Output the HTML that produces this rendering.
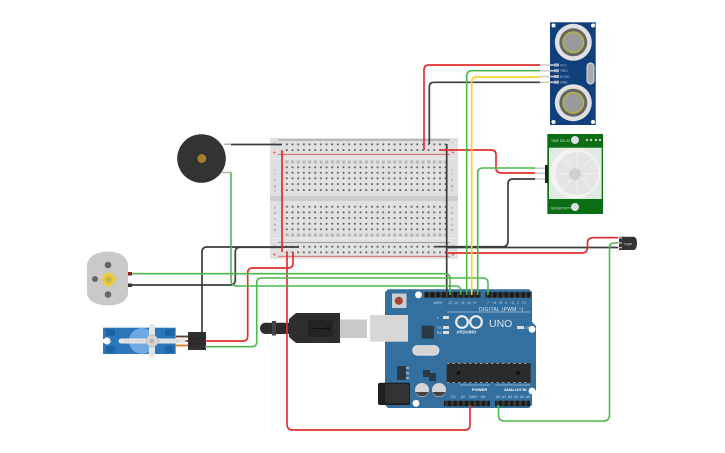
<!DOCTYPE html>
<html><head><meta charset="utf-8"><style>html,body{margin:0;padding:0;background:#fff}svg{display:block}text{font-family:"Liberation Sans",sans-serif}</style></head><body>
<svg width="725" height="453" viewBox="0 0 725 453" xmlns="http://www.w3.org/2000/svg">
<defs>
<pattern id="h" patternUnits="userSpaceOnUse" x="284" y="0" width="5.67" height="453"><rect x="2" y="0" width="1.700" height="453" fill="#555"/></pattern>
<pattern id="n" patternUnits="userSpaceOnUse" x="284" y="0" width="5.67" height="453"><rect x="1.5" y="0" width="3" height="453" fill="#b5b5b5"/></pattern>
<pattern id="p" patternUnits="userSpaceOnUse" x="424" y="0" width="5.67" height="453"><rect width="5.67" height="453" fill="#3a3a3a"/><rect x="1.2" y="0" width="3.2" height="453" fill="#1b1b1b"/></pattern>
</defs>

<!-- breadboard -->
<rect x="270" y="138" width="188" height="121" fill="#e0e0e0"/>
<rect x="270" y="196" width="188" height="5" fill="#cdcdcd"/>
<rect x="270" y="158" width="188" height="1" fill="#ececec"/>
<rect x="270" y="238" width="188" height="1" fill="#ececec"/>
<path d="M278 140H450M278 242.700H450" stroke="#777" stroke-width=".7" fill="none"/>
<path d="M278 154.300H450M278 256.300H450" stroke="#d9534f" stroke-width=".8" fill="none"/>
<g fill="url(#h)">
<rect x="284" y="143.500" width="166" height="1.700"/><rect x="284" y="149.200" width="166" height="1.700"/>
<rect x="284" y="166.500" width="166" height="1.700"/><rect x="284" y="171.900" width="166" height="1.700"/><rect x="284" y="177.500" width="166" height="1.700"/><rect x="284" y="183.200" width="166" height="1.700"/><rect x="284" y="189.200" width="166" height="1.700"/>
<rect x="284" y="205.900" width="166" height="1.700"/><rect x="284" y="211.500" width="166" height="1.700"/><rect x="284" y="217.200" width="166" height="1.700"/><rect x="284" y="222.900" width="166" height="1.700"/><rect x="284" y="228.500" width="166" height="1.700"/>
<rect x="284" y="245.900" width="166" height="1.700"/><rect x="284" y="251.500" width="166" height="1.700"/>
</g>
<rect x="284" y="160.500" width="166" height="3" fill="url(#n)"/>
<rect x="284" y="233.500" width="166" height="3" fill="url(#n)"/>
<g font-size="4" fill="#888" text-anchor="middle">
<text x="275" y="170">j</text><text x="275" y="175">i</text><text x="275" y="181">h</text><text x="275" y="187">g</text><text x="275" y="192">f</text>
<text x="452" y="170">j</text><text x="452" y="175">i</text><text x="452" y="181">h</text><text x="452" y="187">g</text><text x="452" y="192">f</text>
<text x="275" y="209">e</text><text x="275" y="214">d</text><text x="275" y="220">c</text><text x="275" y="226">b</text><text x="275" y="231">a</text>
<text x="452" y="209">e</text><text x="452" y="214">d</text><text x="452" y="220">c</text><text x="452" y="226">b</text><text x="452" y="231">a</text>
</g>
<g font-size="6" fill="#d33" text-anchor="middle"><text x="274.500" y="154.500">+</text><text x="453" y="154.500">+</text><text x="274.500" y="256.500">+</text><text x="453" y="256.500">+</text></g>
<g font-size="5" fill="#555" text-anchor="middle"><text x="274.500" y="144">-</text><text x="453" y="144">-</text><text x="274.500" y="247">-</text><text x="453" y="247">-</text></g>

<!-- buzzer -->
<circle cx="201.500" cy="158.500" r="24.300" fill="#333"/>
<circle cx="201.800" cy="158.500" r="4.500" fill="#a67f2e"/>
<path d="M224 144.300H231M222 172.500H231" stroke="#b5b5b5" stroke-width="1.500" fill="none"/>

<!-- motor -->
<path d="M98 253Q108 250 118 253Q126 256 128 264V294Q126 302 118 304Q108 307 98 304Q89 302 87 294V264Q89 256 98 253Z" fill="#c9c9c9"/>
<circle cx="108" cy="265" r="3.300" fill="#666"/><circle cx="95" cy="279" r="3" fill="#666"/><circle cx="108" cy="294.500" r="3.300" fill="#666"/>
<circle cx="108.500" cy="279.500" r="6" fill="#eecb2c"/>
<path d="M108.500 271.500V287.500M100.500 279.500H116.500M103 274L114 285M114 274L103 285" stroke="#eecb2c" stroke-width="1.800"/>
<circle cx="108.500" cy="279.500" r="3.300" fill="#c6b24e"/>
<rect x="128" y="272" width="4" height="3.500" fill="#8a1f1f"/><rect x="128" y="283.500" width="4" height="3.500" fill="#333"/>

<!-- servo -->
<rect x="103" y="327.700" width="72.700" height="26.300" fill="#2c77bb"/>
<circle cx="107" cy="341" r="3.600" fill="#fff"/>
<rect x="103" y="339" width="4" height="4" fill="#fff"/>
<rect x="106" y="329" width="9" height="7" fill="#1f63a2"/><rect x="106" y="346" width="9" height="7" fill="#1f63a2"/><rect x="165" y="329" width="9" height="7" fill="#1f63a2"/><rect x="165" y="346" width="9" height="7" fill="#1f63a2"/>
<circle cx="142" cy="341" r="13" fill="#6fa9e3"/>
<path d="M176 336.500H188" stroke="#5a3a2a" stroke-width="1.800"/><path d="M178 341H188" stroke="#a83030" stroke-width="1.800"/><path d="M176 345.500H188" stroke="#d97a28" stroke-width="1.800"/>
<path d="M121 341H183" stroke="#e6e6e6" stroke-width="5" stroke-linecap="round"/>
<path d="M125 341H145M159 341H180" stroke="#8aa0b5" stroke-width="1" stroke-dasharray="1 2.500"/>
<path d="M152 327V354" stroke="#e6e6e6" stroke-width="6" stroke-linecap="round"/>
<circle cx="152" cy="341" r="6" fill="#d5d5d5" stroke="#aaa" stroke-width=".6"/><circle cx="152" cy="341" r="2.500" fill="#b5b5b5"/>
<rect x="188" y="332" width="18" height="18" fill="#2f2f2f"/>
<path d="M188 338H206M188 344H206" stroke="#1c1c1c" stroke-width=".6"/>

<!-- ultrasonic -->
<rect x="550" y="22.300" width="45.700" height="102.700" fill="#103f7c"/>
<g fill="#fff"><circle cx="553.500" cy="25.500" r="2"/><circle cx="593" cy="25.500" r="2"/><circle cx="553.500" cy="122" r="2"/><circle cx="593" cy="122" r="2"/></g>
<g>
<circle cx="573.300" cy="42.300" r="18.500" fill="#e0e0e0"/><circle cx="573.300" cy="42.300" r="14" fill="#666"/><circle cx="573.300" cy="42.300" r="11" fill="#b4b53a"/><circle cx="573.300" cy="42.300" r="9.500" fill="#9a9a9a"/>
<circle cx="573.300" cy="102.700" r="18.500" fill="#e0e0e0"/><circle cx="573.300" cy="102.700" r="14" fill="#666"/><circle cx="573.300" cy="102.700" r="11" fill="#b4b53a"/><circle cx="573.300" cy="102.700" r="9.500" fill="#9a9a9a"/>
</g>
<rect x="587" y="63" width="7" height="21" rx="3.500" fill="#aaa" stroke="#ddd" stroke-width="1"/>
<g fill="#a9b9cc"><rect x="554" y="63.500" width="5" height="3"/><rect x="554" y="69.200" width="5" height="3"/><rect x="554" y="75" width="5" height="3"/><rect x="554" y="80.700" width="5" height="3"/></g>
<g font-size="3.300" fill="#b9c7d8"><text x="560" y="66.500">VCC</text><text x="560" y="72.200">TRIG</text><text x="560" y="78">ECHO</text><text x="560" y="83.700">GND</text></g>
<path d="M540 65H554M540 70.700H554M540 76.500H554M540 82.200H554" stroke="#ccc" stroke-width="1.500"/>

<!-- PIR -->
<rect x="547.300" y="134" width="55.700" height="80" fill="#0c6e14"/>
<rect x="549" y="147.700" width="52.700" height="51.300" fill="#dfecdf"/>
<circle cx="575" cy="173.500" r="25" fill="#f2f2f2"/>
<circle cx="577" cy="173.500" r="21.500" fill="#e4e4e4"/>
<path d="M577 152V195M556 173.500H598M562 158L592 189M592 158L562 189" stroke="#efefef" stroke-width="1"/>
<circle cx="575" cy="174" r="6" fill="#d0d0d0"/>
<circle cx="575" cy="140" r="4" fill="#ddd"/><circle cx="575" cy="207" r="4" fill="#ddd"/>
<g fill="#ccc"><circle cx="587" cy="140" r="1.200"/><circle cx="591" cy="140" r="1.200"/><circle cx="596" cy="140" r="1.200"/><circle cx="600" cy="140" r="1.200"/></g>
<g font-size="3.300" fill="#cfe0cf"><text x="551" y="142">TIME DELAY</text><text x="551" y="209.500">SENSITIVITY</text></g>
<rect x="545" y="165" width="3" height="18" fill="#222"/>
<path d="M535 168.300H545M535 173.300H545M535 179H545" stroke="#c9c9c9" stroke-width="1.500"/>

<!-- temp sensor -->
<path d="M619 236.700H633Q637 236.700 637 243.400Q637 250 633 250H619Z" fill="#333"/>
<path d="M618 238H622M618 243H622M618 247.700H622" stroke="#ccc" stroke-width="1.200"/>
<text x="628" y="245.500" font-size="4" fill="#ddd" text-anchor="middle">TMP</text>

<!-- arduino -->
<path d="M388 289.300H529L532 292V322L536 326V390L532 394V405L529 408H388L385 405V292Z" fill="#336f9f"/>
<rect x="424" y="292" width="56.700" height="5.700" fill="url(#p)"/>
<rect x="485" y="292" width="45.700" height="5.700" fill="url(#p)"/>
<rect x="444" y="400.700" width="46" height="5.500" fill="url(#p)"/>
<rect x="495" y="400.700" width="35" height="5.500" fill="url(#p)"/>
<rect x="392" y="293.500" width="14.500" height="14.500" fill="#c9ced2"/><circle cx="398.800" cy="300.800" r="4" fill="#a8402c"/>
<g fill="#fff"><circle cx="418.500" cy="294.800" r="3.400"/><circle cx="532" cy="329.300" r="3.400"/><circle cx="532" cy="391" r="3.400"/><circle cx="416" cy="403.300" r="3.400"/></g>
<rect x="421.700" y="325.700" width="12.300" height="13" fill="#2a3a46"/>
<rect x="412.700" y="345.700" width="26.300" height="9.500" rx="4.700" fill="#d5d5d5" stroke="#eee" stroke-width=".8"/>
<rect x="446.700" y="363" width="84" height="20" fill="#2b2b2b"/>
<circle cx="458.500" cy="373" r="2" fill="#111"/><circle cx="518" cy="373" r="2" fill="#111"/>
<path d="M447 363.500H530M447 382.500H530" stroke="#999" stroke-width="1" stroke-dasharray="2.500 3"/>
<rect x="423" y="370" width="7" height="7" fill="#2a3a46"/>
<rect x="397" y="366" width="9" height="14" fill="#2a3a46"/><path d="M406 368H409M406 373H409M406 378H409" stroke="#bbb" stroke-width="1.500"/>
<rect x="429" y="373" width="7" height="8" fill="#2a3a46"/>
<rect x="378" y="382.700" width="32" height="22.300" rx="2" fill="#1f1f1f"/><rect x="385" y="384" width="24" height="19" rx="2" fill="#333"/>
<circle cx="422" cy="390" r="7" fill="#d5d5d5"/><path d="M415.500 392A7 7 0 0 0 428.500 392Z" fill="#444"/>
<circle cx="439" cy="390" r="7" fill="#d5d5d5"/><path d="M432.500 392A7 7 0 0 0 445.500 392Z" fill="#444"/>
<g fill="#ddd"><rect x="443" y="316" width="6" height="3"/><rect x="443" y="326" width="6" height="3"/><rect x="443" y="331" width="6" height="3"/><rect x="517" y="326" width="7" height="3"/></g>
<g font-size="3.500" fill="#dce7ef"><text x="437" y="319">L</text><text x="437" y="329">TX</text><text x="437" y="334">RX</text><text x="525" y="329">ON</text></g>
<path d="M447 312H530M460 385H490M495 385H530" stroke="#a9c4d8" stroke-width=".7"/>
<text x="479" y="311" font-size="5" fill="#dce7ef" letter-spacing=".3">DIGITAL (PWM ~)</text>
<text x="472" y="391" font-size="4" fill="#fff" font-weight="bold">POWER</text>
<text x="504" y="391" font-size="4" fill="#fff" font-weight="bold">ANALOG IN</text>
<g fill="none" stroke="#e8eff4" stroke-width="2.200"><circle cx="462" cy="322" r="5.800"/><circle cx="476" cy="322" r="5.800"/></g>
<text x="456.300" y="333.500" font-size="4.300" fill="#e8eff4" font-weight="bold">ARDUINO</text>
<text x="489" y="327" font-size="10.500" fill="#dfe9f0">UNO</text>
<g font-size="3.500" fill="#cfdde8" text-anchor="middle"><text x="438" y="304">AREF</text><text x="450" y="304">13</text><text x="456" y="304">12</text><text x="462" y="304">~11</text><text x="468" y="304">~10</text><text x="474" y="304">~9</text><text x="488" y="304">7</text><text x="494" y="304">~6</text><text x="500" y="304">~5</text><text x="506" y="304">4</text><text x="512" y="304">~3</text><text x="518" y="304">2</text><text x="524" y="304">TX</text></g>
<g font-size="3.500" fill="#cfdde8" text-anchor="middle"><text x="453" y="398">3.3</text><text x="463" y="398">5V</text><text x="473" y="398">GND</text><text x="483" y="398">Vin</text><text x="498" y="398">A0</text><text x="504" y="398">A1</text><text x="510" y="398">A2</text><text x="516" y="398">A3</text><text x="522" y="398">A4</text><text x="528" y="398">A5</text></g>

<!-- usb -->
<rect x="370" y="315" width="38" height="26.700" fill="#d7d7d7"/>
<rect x="340" y="319.500" width="27" height="18.500" fill="#c9c9c9"/>
<path d="M296 313H340V343H296L289 337V319Z" fill="#2e2e2e"/>
<rect x="308" y="320" width="25" height="17" fill="#242424"/>
<path d="M311 328.500H328" stroke="#111" stroke-width="1"/><circle cx="328" cy="328.500" r="1.800" fill="#111"/>
<path d="M270 322.700H289V334H270Z" fill="#2a2a2a"/>
<rect x="260" y="322.700" width="14" height="11.300" rx="5.600" fill="#2e2e2e"/>
<rect x="272" y="321" width="4" height="14.500" fill="#444"/>

<!-- wires -->
<g fill="none" stroke-linejoin="round" stroke-linecap="butt">
<g stroke="#3c3c3c" stroke-width="1.700">
<path d="M231 144.500H282"/>
<path d="M429.300 144V87Q429.300 82.300 434 82.300H540"/>
<path d="M446.700 144V296"/>
<path d="M202 333V252Q202 247 207 247H299"/>
<path d="M132 285H230Q235.300 285 235.300 280V252Q235.300 247.300 240 247.300H282"/>
<path d="M435 246.700H503Q508 246.700 508 241V184Q508 179 513 179H535"/>
<path d="M446 247.500H618"/>
</g>
<g stroke="#e22f2f" stroke-width="1.700">
<path d="M282 150V252"/>
<path d="M424 150V70Q424 65 429 65H540"/>
<path d="M440 150H491Q496 150 496 155V168Q496 173 501 173H535"/>
<path d="M205 341H243Q247.700 341 247.700 336V273Q247.700 268 252.700 268H288Q293 268 293 263V252"/>
<path d="M287 252V424Q287 430 293 430H465Q470 430 470 425V405"/>
<path d="M445 253H582Q587.500 253 587.500 247V243Q587.500 237.700 593 237.700H618"/>
</g>
<g stroke="#4cb84c" stroke-width="1.600">
<path d="M231 172.500V280Q231 286 237 286H456Q460.700 286 460.700 291V295"/>
<path d="M132 273.700H445Q450 273.700 450 279V295"/>
<path d="M205 346.700H252Q256.700 346.700 256.700 342V283Q256.700 278 262 278H483Q488 278 488 283V295"/>
<path d="M466.700 295V76Q466.700 70.700 472 70.700H540"/>
<path d="M477.700 295V173Q477.700 168 483 168H535"/>
<path d="M618 243H614Q609.500 243 609.500 248V415Q609.500 421 603 421H504Q498.500 421 498.500 415V405"/>
</g>
<path d="M471.700 295V82Q471.700 77 477 77H540" stroke="#f5d327" stroke-width="1.700"/>
</g>
</svg>
</body></html>
